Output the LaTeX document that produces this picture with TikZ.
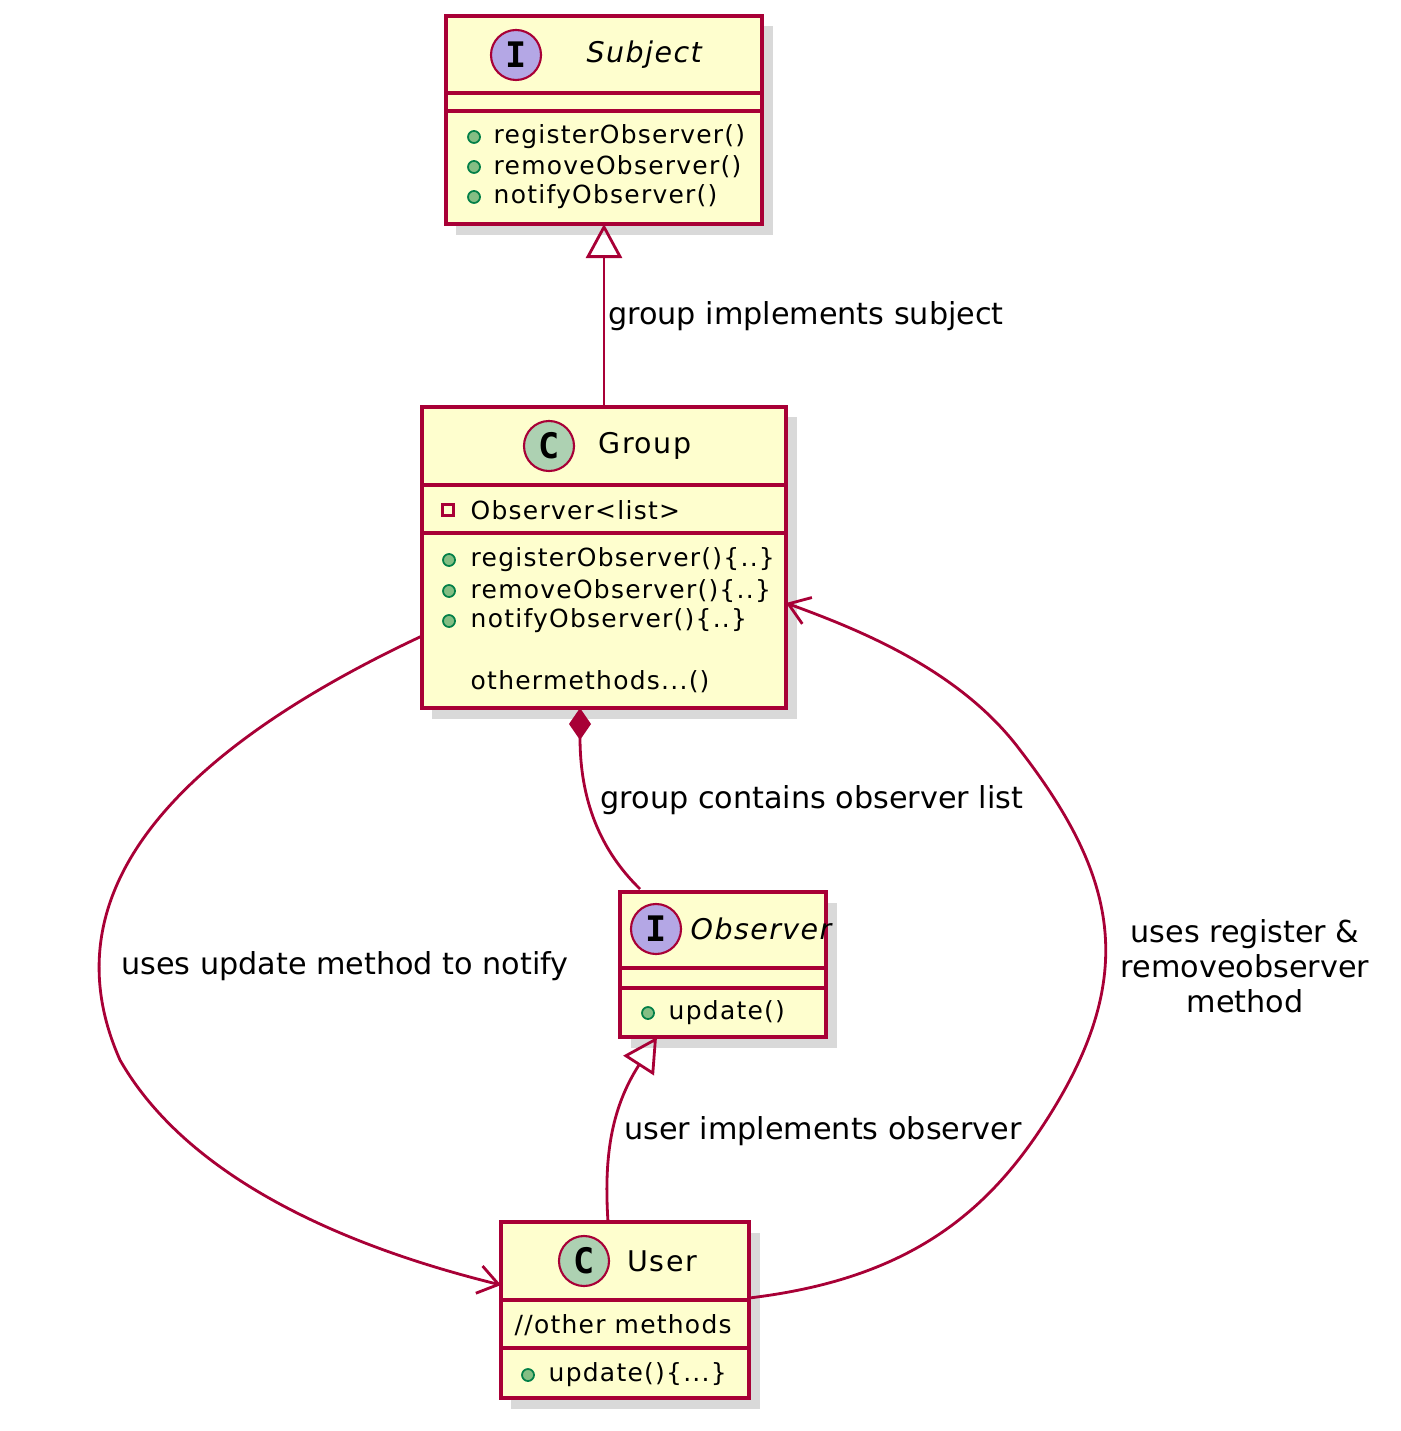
\documentclass[tikz,border=0pt]{standalone}
\usepackage{fontspec}
\setmainfont{DejaVu Sans}
\newfontfamily\icofont{DejaVu Sans Mono}
\newfontfamily\memfont[LetterSpace=5]{DejaVu Sans}
\usetikzlibrary{arrows.meta,shadows}
\definecolor{bd}{HTML}{A80036}
\definecolor{bg}{HTML}{FEFECE}
\definecolor{cg}{HTML}{ADD1B2}
\definecolor{ip}{HTML}{B4A7E5}
\definecolor{pg}{HTML}{84BE84}
\definecolor{pgd}{HTML}{038048}
\tikzset{
 x=0.01cm,y=-0.01cm,
 box/.style={draw=bd,line width=1.2pt,fill=bg,inner sep=0,drop shadow={shadow xshift=3pt,shadow yshift=-3pt,opacity=0.3}},
 sep/.style={draw=bd,line width=1.2pt},
 mem/.style={anchor=west,inner sep=0,font=\memfont\fontsize{7.1}{8}\selectfont},
 cname/.style={inner sep=0,font=\memfont\fontsize{8.1}{9}\selectfont},
 lab/.style={inner sep=0,font=\fontsize{8.6}{10}\selectfont,align=center},
 pub/.style={draw=pgd,fill=pg,line width=0.5pt,circle,inner sep=0,minimum size=0.12cm},
 priv/.style={draw=bd,line width=0.6pt,inner sep=0,minimum size=0.11cm},
 ico/.style={circle,draw=bd,line width=0.6pt,minimum size=0.5cm,inner sep=0,font=\icofont\bfseries\fontsize{10}{10}\selectfont},
 conn/.style={draw=bd,line width=0.8pt},
}
\begin{document}
\begin{tikzpicture}
\useasboundingbox (0,0) rectangle (1400,1431);
% Subject
\node[box,minimum width=3.16cm,minimum height=2.08cm] (S) at (604,120) {};
\draw[sep] (446,93)--(762,93) (446,111)--(762,111);
\node[ico,fill=ip] (Si) at (516,55) {I};
\node[cname,anchor=west] (St) at (586,55) {\itshape Subject};
\foreach \t/\y [count=\i] in {registerObserver()/137,removeObserver()/167,notifyObserver()/197}{
 \node[pub] (Sp\i) at (474,\y) {};
 \node[mem] (Sm\i) at (493,\y) {\t};}
% Group
\node[box,minimum width=3.64cm,minimum height=3.01cm] (G) at (604,557.5) {};
\draw[sep] (422,485)--(786,485) (422,533)--(786,533);
\node[ico,fill=cg] (Gi) at (549,446) {C};
\node[cname,anchor=west] (Gt) at (598,446) {Group};
\node[priv] (Ga) at (448,510) {};
\node[mem] (Gam) at (470,510) {Observer<list>};
\foreach \t/\y [count=\i] in {registerObserver()\{..\}/560,removeObserver()\{..\}/591,notifyObserver()\{..\}/621}{
 \node[pub] (Gp\i) at (449,\y) {};
 \node[mem] (Gm\i) at (470,\y) {\t};}
\node[mem] (Go) at (470,682) {othermethods...()};
% Observer
\node[box,minimum width=2.06cm,minimum height=1.45cm] (O) at (723,964.5) {};
\draw[sep] (620,968)--(826,968) (620,988)--(826,988);
\node[ico,fill=ip] (Oi) at (656,929) {I};
\node[cname,anchor=west] (Ot) at (690,929) {\itshape Observer};
\node[pub] (Op) at (648,1013) {};
\node[mem] (Om) at (668,1013) {update()};
% User
\node[box,minimum width=2.48cm,minimum height=1.76cm] (U) at (625,1310) {};
\draw[sep] (501,1300)--(749,1300) (501,1348)--(749,1348);
\node[ico,fill=cg] (Ui) at (584,1261) {C};
\node[cname,anchor=west] (Ut) at (627,1261) {User};
\node[mem] (Ua) at (514,1325) {//other methods};
\node[pub] (Up) at (528,1375) {};
\node[mem] (Um) at (548,1375) {update()\{...\}};
% connectors
\coordinate (g1) at (604,407); \coordinate (s1) at (604,224);
\draw[conn,-{Triangle[open,length=0.34cm,width=0.36cm]}] (g1) -- (s1);
\node[lab] (L1) at (806,316) {group implements subject};
\coordinate (o1) at (640,889); \coordinate (g2) at (580,708);
\draw[conn,-{Diamond[length=0.32cm,width=0.22cm,fill=bd]}] (o1) .. controls (600,850) and (580,800) .. (g2);
\node[lab] (L2) at (812,800) {group contains observer list};
\coordinate (u1) at (608,1222); \coordinate (o2) at (657,1037);
\draw[conn,-{Triangle[open,length=0.34cm,width=0.36cm]}] (u1) .. controls (604,1160) and (610,1110) .. (o2);
\node[lab] (L3) at (823,1131) {user implements observer};
\coordinate (g3) at (422,636); \coordinate (u2) at (501,1285);
\draw[conn,-{Straight Barb[length=0.2cm,width=0.28cm]}] (g3) .. controls (200,740) and (40,880) .. (120,1060) .. controls (200,1200) and (400,1260) .. (u2);
\node[lab] (L4) at (345,966) {uses update method to notify};
\coordinate (u3) at (749,1298); \coordinate (g4) at (786,603);
\draw[conn,-{Straight Barb[length=0.2cm,width=0.28cm]}] (u3) .. controls (900,1280) and (980,1220) .. (1040,1130) .. controls (1140,980) and (1120,880) .. (1020,750) .. controls (960,670) and (860,630) .. (g4);
\node[lab] (L5) at (1245,966) {uses register \&\\ removeobserver\\ method};
\end{tikzpicture}
\end{document}
